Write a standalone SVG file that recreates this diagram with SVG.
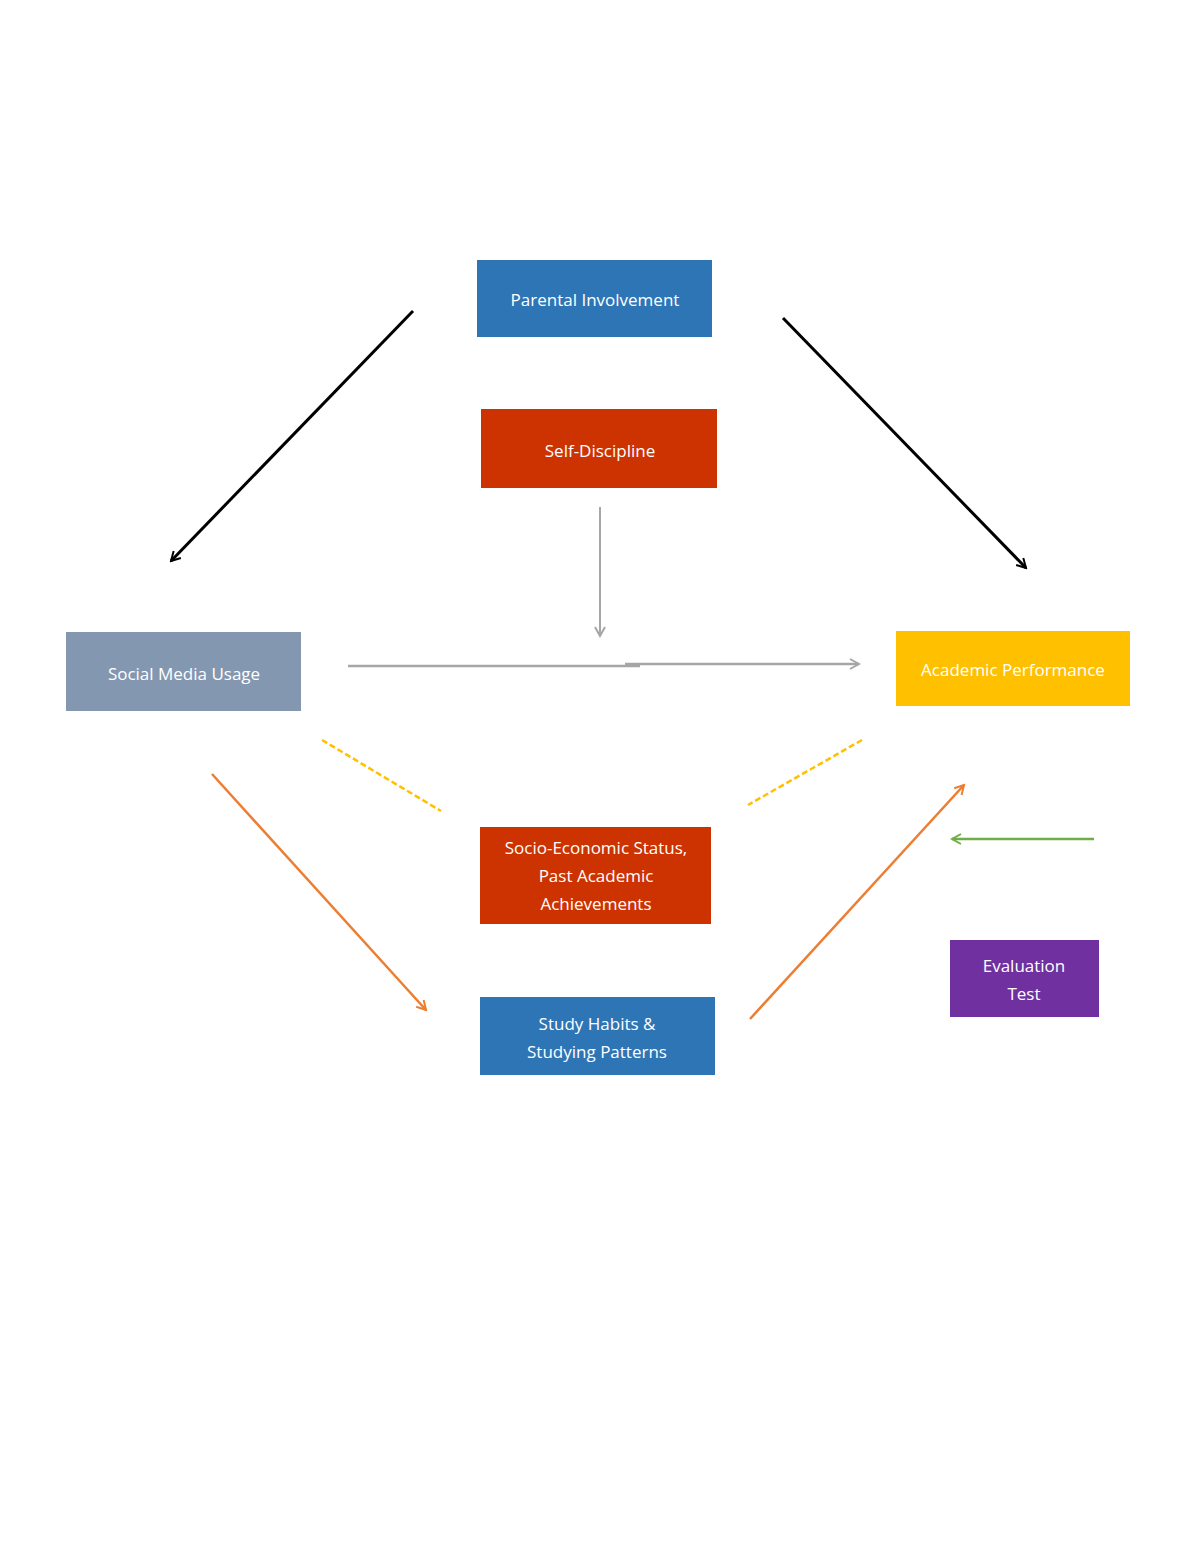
<svg xmlns="http://www.w3.org/2000/svg" width="1200" height="1553" viewBox="0 0 1200 1553">
<style>
text{font-family:"Open Sans","Liberation Sans",sans-serif;font-size:17px;fill:#fff;text-anchor:middle}
.c{fill:none}
</style>
<defs>
<marker id="ab" markerWidth="12" markerHeight="12" refX="10" refY="6" orient="auto" markerUnits="userSpaceOnUse"><path d="M1,1 L10,6 L1,11" fill="none" stroke="#000" stroke-width="2"/></marker>
<marker id="ag" markerWidth="12" markerHeight="12" refX="10" refY="6" orient="auto" markerUnits="userSpaceOnUse"><path d="M1,1 L10,6 L1,11" fill="none" stroke="#A6A6A6" stroke-width="2"/></marker>
<marker id="ao" markerWidth="12" markerHeight="12" refX="10" refY="6" orient="auto" markerUnits="userSpaceOnUse"><path d="M1,1 L10,6 L1,11" fill="none" stroke="#ED7D31" stroke-width="2"/></marker>
<marker id="an" markerWidth="12" markerHeight="12" refX="10" refY="6" orient="auto" markerUnits="userSpaceOnUse"><path d="M1,1 L10,6 L1,11" fill="none" stroke="#70AD47" stroke-width="2"/></marker>
</defs>
<rect width="1200" height="1553" fill="#fff"/>
<g id="connectors" class="c">
<line x1="413" y1="311" x2="171" y2="561" stroke="#000" stroke-width="3" marker-end="url(#ab)"/>
<line x1="783" y1="318" x2="1026" y2="568" stroke="#000" stroke-width="3" marker-end="url(#ab)"/>
<line x1="600" y1="507" x2="600" y2="636" stroke="#A6A6A6" stroke-width="2" marker-end="url(#ag)"/>
<line x1="348" y1="666" x2="640" y2="666" stroke="#A6A6A6" stroke-width="2.5"/>
<line x1="625" y1="664" x2="859" y2="664" stroke="#A6A6A6" stroke-width="2.5" marker-end="url(#ag)"/>
<line x1="322" y1="740" x2="441" y2="811" stroke="#FFC000" stroke-width="2.5" stroke-dasharray="6,3"/>
<line x1="862" y1="740" x2="748" y2="805" stroke="#FFC000" stroke-width="2.5" stroke-dasharray="6,3"/>
<line x1="212" y1="774" x2="426" y2="1010" stroke="#ED7D31" stroke-width="2.5" marker-end="url(#ao)"/>
<line x1="750" y1="1019" x2="964" y2="785" stroke="#ED7D31" stroke-width="2.5" marker-end="url(#ao)"/>
<line x1="1094" y1="839" x2="952" y2="839" stroke="#70AD47" stroke-width="2.5" marker-end="url(#an)"/>
</g>
<g id="parental"><rect x="477" y="260" width="235" height="77" fill="#2E75B6"/><text x="595" y="306">Parental Involvement</text></g>
<g id="selfdiscipline"><rect x="481" y="409" width="236" height="79" fill="#CC3300"/><text x="600" y="457">Self-Discipline</text></g>
<g id="socialmedia"><rect x="66" y="632" width="235" height="79" fill="#8497B0"/><text x="184" y="680">Social Media Usage</text></g>
<g id="academic"><rect x="896" y="631" width="234" height="75" fill="#FFC000"/><text x="1013" y="676">Academic Performance</text></g>
<g id="socioeconomic"><rect x="480" y="827" width="231" height="97" fill="#CC3300"/><text x="596" y="854">Socio-Economic Status,</text><text x="596" y="882">Past Academic</text><text x="596" y="910">Achievements</text></g>
<g id="studyhabits"><rect x="480" y="997" width="235" height="78" fill="#2E75B6"/><text x="597" y="1030">Study Habits &amp;</text><text x="597" y="1058">Studying Patterns</text></g>
<g id="evaluation"><rect x="950" y="940" width="149" height="77" fill="#7030A0"/><text x="1024" y="972">Evaluation</text><text x="1024" y="1000">Test</text></g>
</svg>
